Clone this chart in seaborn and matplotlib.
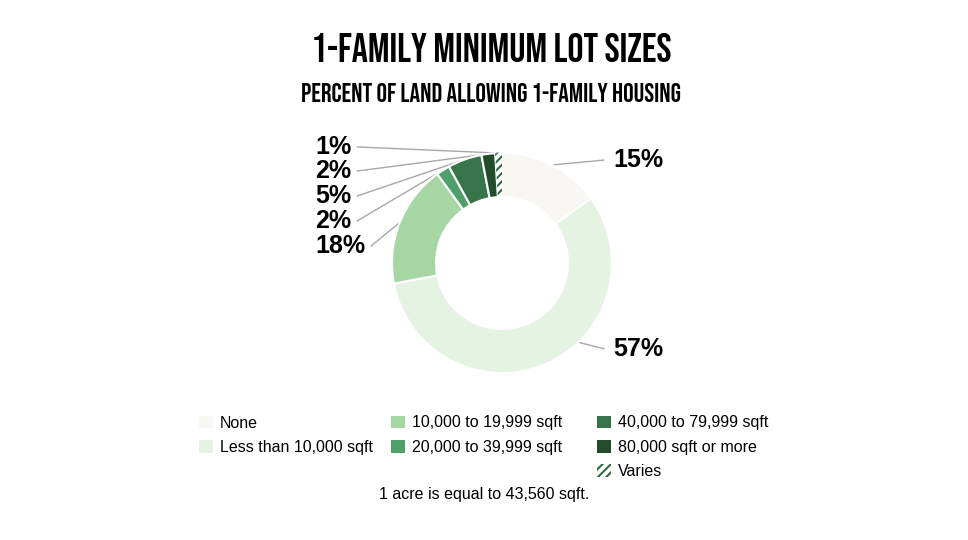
import matplotlib
matplotlib.use("Agg")
import matplotlib.pyplot as plt
import seaborn as sns
import numpy as np
from matplotlib.patches import Patch

# data (clockwise from 12 o'clock)
categories = ["None", "Less than 10,000 sqft", "10,000 to 19,999 sqft",
              "20,000 to 39,999 sqft", "40,000 to 79,999 sqft",
              "80,000 sqft or more", "Varies"]
shares = [15, 57, 18, 2, 5, 2, 1]
colors = ["#f8f7f3", "#e4f3e2", "#a6d6a4", "#4f9f6b", "#38744a", "#234c2b", "#ffffff"]
hatch_color = "#2f6a40"

sns.set_theme(style="white")
plt.rcParams["font.family"] = ["Liberation Sans", "DejaVu Sans"]
plt.rcParams["text.color"] = "black"
plt.rcParams["hatch.linewidth"] = 1.5
title_fonts = ["Bebas Neue", "Barlow Condensed", "DejaVu Sans"]

fig = plt.figure(figsize=(9.68, 5.40), dpi=100)
fig.patch.set_facecolor("white")

# axes laid out so one data unit = 110 px, donut center at (502, 263) px
ax = fig.add_axes([(502 - 242) / 968, 145 / 540, 484 / 968, 264 / 540])
wedges, _ = ax.pie(shares, colors=colors, startangle=90, counterclock=False,
                   radius=1.0, wedgeprops=dict(width=0.4, edgecolor="white", linewidth=1.5))
ax.set_xlim(-2.2, 2.2)
ax.set_ylim(-1.2, 1.2)
ax.axis("off")

# hatched "Varies" wedge
varies = wedges[-1]
varies.set_edgecolor(hatch_color)
varies.set_linewidth(0)
varies.set_hatch("////")

# percent labels: right side for the two big slices, stacked left for the rest
label_x = {0: 1.01, 1: 1.01}
label_y = {0: 0.936, 1: -0.78, 2: 0.155, 3: 0.382, 4: 0.609, 5: 0.836, 6: 1.055}
texts = []
for i, w in enumerate(wedges):
    x = label_x.get(i, -1.70)
    t = ax.text(x, label_y[i], f"{shares[i]}%", fontsize=18, fontweight="bold",
                ha="left", va="center", color="black")
    texts.append(t)

fig.canvas.draw()
renderer = fig.canvas.get_renderer()
inv = ax.transData.inverted()
gap = 6 / 110
for i, (w, t) in enumerate(zip(wedges, texts)):
    # wedges run clockwise, so they start at theta2
    frac = 0.4 if i == 1 else 0.5  # line sits off-centre on the big slice
    mid = np.deg2rad(w.theta2 - frac * (w.theta2 - w.theta1))
    start = (np.cos(mid), np.sin(mid))
    bb = t.get_window_extent(renderer)
    (x0, _), (x1, _) = inv.transform([(bb.x0, 0), (bb.x1, 0)])
    y = t.get_position()[1]
    end = (x0 - 1.5 * gap, y) if i in label_x else (x1 + gap, y)
    ax.plot([start[0], end[0]], [start[1], end[1]], color="#a8a8a8", lw=1.0, zorder=0)

# titles
fig.text(0.507, 1 - 47 / 540, "1-FAMILY MINIMUM LOT SIZES", ha="center", va="center",
         fontsize=29, fontweight="bold", family=title_fonts, color="black")
fig.text(0.507, 1 - 92 / 540, "PERCENT OF LAND ALLOWING 1-FAMILY HOUSING", ha="center",
         va="center", fontsize=19, fontweight="bold", family=title_fonts, color="black")

# legend in three columns
handles = [Patch(facecolor=c, edgecolor="none") for c in colors[:-1]]
handles.append(Patch(facecolor="white", edgecolor=hatch_color, linewidth=0, hatch="////"))
cols = [(0, 2, 199), (2, 4, 391), (4, 7, 597)]
for a, b, xpix in cols:
    fig.legend(handles[a:b], categories[a:b], loc="upper left",
               bbox_to_anchor=(xpix / 968, 1 - 415.5 / 540), frameon=False,
               fontsize=11.5, handlelength=0.85, handleheight=0.85,
               handletextpad=0.45, labelspacing=0.58, borderpad=0, borderaxespad=0)

fig.text(0.5, 1 - 494 / 540, "1 acre is equal to 43,560 sqft.", ha="center", va="center",
         fontsize=11.5, color="black")

fig.savefig("out.png", dpi=100, facecolor="white")
